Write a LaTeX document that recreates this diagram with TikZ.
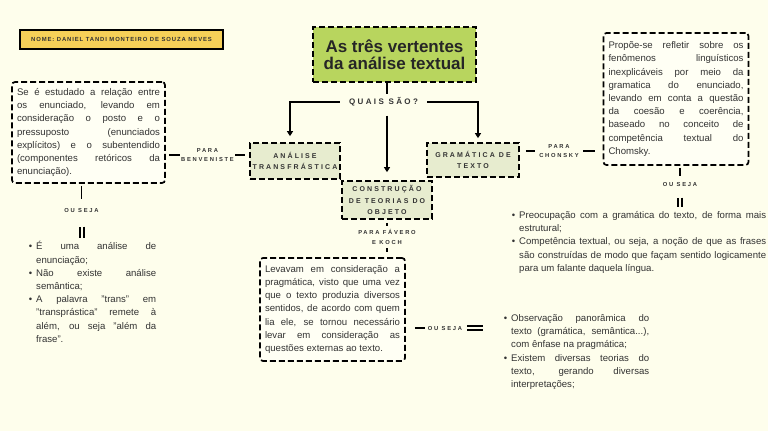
\documentclass[tikz,border=0pt]{standalone}
\usepackage{fontspec}
\setmainfont{Liberation Sans}
\newfontfamily\capsfont[LetterSpace=30]{Liberation Sans}
\newfontfamily\namefont[LetterSpace=15]{Liberation Sans}
\usepackage{enumitem}
\usetikzlibrary{arrows.meta}
\definecolor{fundo}{RGB}{254,254,236}
\definecolor{creme}{RGB}{255,255,244}
\definecolor{ouro}{RGB}{246,208,88}
\definecolor{lima}{RGB}{184,213,94}
\definecolor{verdeclaro}{RGB}{231,236,207}
\definecolor{texto}{RGB}{51,51,51}
\hyphenpenalty=10000
\exhyphenpenalty=10000
\tolerance=10000
\setlength{\parindent}{0pt}
\setlist[itemize]{leftmargin=9pt,labelsep=4pt,itemsep=0pt,topsep=0pt,
	parsep=0pt,partopsep=0pt,label={\textbullet}}
\newcommand{\corpo}{\fontsize{9.6}{13.2}\selectfont}
\begin{document}
\begin{tikzpicture}[
	x=1pt, y=-1pt,
	caixa/.style={draw, line width=1.7pt, dash pattern=on 6pt off 3pt,
		rounded corners=3pt, fill=creme, inner xsep=5pt, inner ysep=0pt,
		align=justify, text=texto, font=\corpo},
	tema/.style={draw, line width=1.7pt, dash pattern=on 6pt off 3pt,
		fill=verdeclaro, align=center, inner sep=0pt, text=texto,
		font=\capsfont\bfseries\fontsize{7}{11.5}\selectfont},
	rotulo/.style={align=center, inner sep=0pt, text=texto,
		font=\capsfont\bfseries\fontsize{5.8}{9.5}\selectfont},
	lista/.style={anchor=north west, inner sep=0pt, align=justify,
		text=texto, font=\corpo},
	link/.style={line width=1.4pt},
	seta/.style={link, -{Triangle[length=5pt,width=6pt]}},
	igual/.style={double=fundo, double distance=2.2pt, line width=1.7pt},
]
\fill[fundo] (0,0) rectangle (768,431);
\useasboundingbox (0,0) rectangle (768,431);

% cabecalho
\node[draw, line width=1.5pt, fill=ouro, minimum width=203pt,
	minimum height=19pt, inner sep=0pt, text=texto,
	font=\namefont\bfseries\fontsize{5.9}{6}\selectfont] (nome) at (121.5,39.5)
	{NOME: DANIEL TANDI MONTEIRO DE SOUZA NEVES};
\node[draw, line width=1.8pt, dash pattern=on 6pt off 3pt, fill=lima,
	minimum width=163pt, minimum height=55pt, align=center, inner sep=0pt,
	text=black!85, font=\bfseries\fontsize{17}{17.5}\selectfont] (titulo)
	at (394.5,54.5) {As três vertentes\\da análise textual};
\node[rotulo, font=\capsfont\bfseries\fontsize{8}{9}\selectfont,
	minimum width=87pt, minimum height=13pt] (quais) at (383.5,102) {QUAIS SÃO?};

% vertentes
\node[tema, minimum width=90pt, minimum height=36pt] (analise) at (295,161)
	{ANÁLISE\\TRANSFRÁSTICA};
\node[tema, minimum width=92pt, minimum height=34pt] (gram) at (473,160)
	{GRAMÁTICA DE\\TEXTO};
\node[tema, minimum width=90pt, minimum height=38pt] (constr) at (387,200)
	{CONSTRUÇÃO\\DE TEORIAS DO\\OBJETO};

\draw[link, shorten >=1.5pt] (titulo.south -| constr.north) -- (quais.north -| constr.north);
\draw[seta, shorten >=6pt] (quais.west) -| ([xshift=-5pt]analise.north);
\draw[seta, shorten >=4pt] (quais.east) -| ([xshift=5pt]gram.north);
\draw[seta, shorten <=7pt, shorten >=8pt] (quais.south -| constr.north) -- (constr.north);

% Benveniste
\node[caixa, text width=143pt, minimum height=101pt] (esq) at (88.5,132.5)
	{Se é estudado a relação entre\linebreak os enunciado, levando em\linebreak
	consideração o posto e o\linebreak pressuposto (enunciados\linebreak
	explícitos) e o subentendido\linebreak (componentes retóricos da\linebreak
	enunciação).};
\node[rotulo, minimum width=55pt] (benv) at (207.5,155) {PARA\\BENVENISTE};
\draw[link, shorten <=3pt] (esq.east |- benv.west) -- (benv.west);
\draw[link, shorten >=4pt] (benv.east) -- (analise.west |- benv.east);

\node[rotulo] (ouseja1) at (81.5,210.5) {OU SEJA};
\draw[link, shorten <=2pt, shorten >=9pt] (esq.south -| ouseja1.north) -- (ouseja1.north);
\coordinate (eq1a) at (82,226.5);
\coordinate (eq1b) at (82,238);
\draw[igual] (eq1a) -- (eq1b);
\node[lista, text width=131pt] (lista1) at (25,236.5) {%
	\begin{itemize}[leftmargin=11pt]
	\item É uma análise de\linebreak enunciação;
	\item Não existe análise\linebreak semântica;
	\item A palavra "trans" em\linebreak "transprástica" remete à\linebreak
		além, ou seja "além da\linebreak frase".
	\end{itemize}};

% Chomsky
\node[caixa, text width=135pt, minimum height=132pt] (dir) at (676,99)
	{Propõe-se refletir sobre os\linebreak fenômenos linguísticos\linebreak
	inexplicáveis por meio da\linebreak gramatica do enunciado,\linebreak
	levando em conta a questão\linebreak da coesão e coerência,\linebreak
	baseado no conceito de\linebreak competência textual do\linebreak Chomsky.};
\node[rotulo, minimum width=48pt] (chon) at (559,151) {PARA\\CHONSKY};
\draw[link, shorten <=6pt] (gram.east |- chon.west) -- (chon.west);
\draw[link, shorten >=8pt] (chon.east) -- (dir.west |- chon.east);

\node[rotulo] (ouseja2) at (680,184.3) {OU SEJA};
\draw[link, shorten <=2pt, shorten >=6pt] (dir.south -| ouseja2.north) -- (ouseja2.north);
\coordinate (eq2a) at (680,197.5);
\coordinate (eq2b) at (680,207);
\draw[igual] (eq2a) -- (eq2b);
\node[lista, text width=256pt] (lista2) at (510,205) {%
	\begin{itemize}
	\item Preocupação com a gramática do texto, de forma mais\linebreak estrutural;
	\item Competência textual, ou seja, a noção de que as frases\linebreak
		são construídas de modo que façam sentido logicamente\linebreak
		para um falante daquela língua.
	\end{itemize}};

% Favero e Koch
\node[rotulo, minimum height=22pt] (favero) at (387,237) {PARA FÁVERO\\E KOCH};
\draw[link, shorten <=3pt] (constr.south) -- (favero.north);
\node[caixa, text width=135pt, minimum height=103pt] (meio) at (332.5,309.5)
	{Levavam em consideração a\linebreak pragmática, visto que uma vez\linebreak
	que o texto produzia diversos\linebreak sentidos, de acordo com quem\linebreak
	lia ele, se tornou necessário\linebreak levar em consideração as\linebreak
	questões externas ao texto.};
\draw[link, shorten >=5pt] (favero.south) -- (favero.south |- meio.north);

\node[rotulo, minimum width=30pt] (ouseja3) at (445,328) {OU SEJA};
\draw[link, shorten <=9pt, shorten >=3pt] (meio.east |- ouseja3.west) -- (ouseja3.west);
\coordinate (eq3a) at (467,327.8);
\coordinate (eq3b) at (483,327.8);
\draw[igual] (eq3a) -- (eq3b);
\node[lista, text width=149pt] (lista3) at (500,308) {%
	\begin{itemize}[leftmargin=11pt]
	\item Observação panorâmica do\linebreak texto (gramática, semântica...),\linebreak
		com ênfase na pragmática;
	\item Existem diversas teorias do\linebreak texto, gerando diversas\linebreak
		interpretações;
	\end{itemize}};
\end{tikzpicture}
\end{document}
